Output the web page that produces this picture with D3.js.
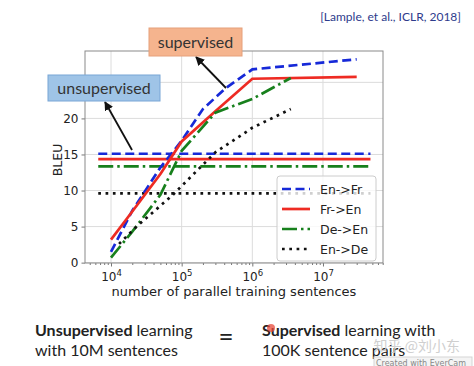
<!DOCTYPE html>
<html>
<head>
<meta charset="utf-8">
<script src="https://d3js.org/d3.v7.min.js"></script>
<style>
    body { margin: 0; background: #fff; }
    svg { display: block; background: #fff; }
    .axis text { font-family: "DejaVu Sans", sans-serif; font-size: 12px; fill: #222; }
    .axis path { display: none; }
    .axis line { stroke: #777; }
    .cal { font-family: Lato, "Open Sans", sans-serif; }
</style>
</head>
<body>
<svg width="474" height="366"></svg>
<script>
    // data
    const series = ["En->Fr", "Fr->En", "De->En", "En->De"];
    const colors = ["#1629d8", "#ee2b23", "#17801c", "#111111"];
    const dashes = ["9,4.5", null, "15,4,2.5,4", "2.7,4.6"];

    // unsupervised results (flat lines)
    const unsupBleu = [15.1, 14.35, 13.35, 9.6];
    const unsupRange = [6600, 4.7e7];

    // supervised results
    const supX = [
        [1e4, 2e4, 5e4, 1e5, 2e5, 4.2e5, 1e6, 3e7],
        [1e4, 2e4, 5e4, 1e5, 3e5, 1e6, 3e7],
        [1e4, 2e4, 5e4, 1e5, 3e5, 1e6, 3.5e6],
        [1.3e4, 2.3e4, 7.5e4, 3e5, 1e6, 3.5e6]
    ];
    const supBleu = [
        [1.5, 7.2, 13.2, 16.9, 21.3, 24.2, 26.8, 28.2],
        [3.2, 7.1, 12.3, 16.8, 21.0, 25.5, 25.75],
        [0.7, 4.3, 9.4, 15.5, 20.8, 22.7, 25.6],
        [2.6, 5.0, 9.4, 15.3, 18.7, 21.3]
    ];

    const xTicks = [1e4, 1e5, 1e6, 1e7];
    const xTickExp = ["4", "5", "6", "7"];
    const yTicks = [0, 5, 10, 15, 20, 25];

    const margin = {top: 51, right: 91, bottom: 103, left: 85};
    const width = 474 - margin.left - margin.right,
          height = 366 - margin.top - margin.bottom;

    const svg = d3.select("svg");
    const g = svg.append("g")
        .attr("transform", "translate(" + margin.left + "," + margin.top + ")");

    const x = d3.scaleLog()
        .domain([4285, 7.07e7])
        .range([0, width]);
    const y = d3.scaleLinear()
        .domain([-0.05, 29.35])
        .range([height, 0]);

    // grid
    g.append("g").selectAll("line").data(xTicks).enter().append("line")
        .attr("x1", d => x(d)).attr("x2", d => x(d))
        .attr("y1", 0).attr("y2", height)
        .attr("stroke", "#dcdcdc");
    g.append("g").selectAll("line").data(yTicks).enter().append("line")
        .attr("x1", 0).attr("x2", width)
        .attr("y1", d => y(d)).attr("y2", d => y(d))
        .attr("stroke", "#dcdcdc");

    // minor ticks
    const minor = [];
    for (let e = 3; e <= 7; e++) {
        for (let m = 2; m <= 9; m++) {
            const v = m * Math.pow(10, e);
            if (v > x.domain()[0] && v < x.domain()[1]) minor.push(v);
        }
    }
    g.append("g").attr("class", "axis")
        .attr("transform", `translate(0,${height})`)
        .call(d3.axisBottom(x).tickValues(minor).tickSize(2).tickFormat(""));

    const xAxis = g.append("g").attr("class", "axis")
        .attr("transform", `translate(0,${height})`)
        .call(d3.axisBottom(x).tickValues(xTicks).tickSize(3.5).tickPadding(4).tickFormat(""));
    xAxis.selectAll(".tick").append("text")
        .attr("y", 18)
        .attr("text-anchor", "middle")
        .attr("fill", "#222")
        .each(function(d, i) {
            const t = d3.select(this);
            t.append("tspan").text("10");
            t.append("tspan").attr("dy", -5).attr("font-size", "8.5px").text(xTickExp[i]);
        });

    // the 25 label sits under the "unsupervised" box in the original
    g.append("g").attr("class", "axis")
        .call(d3.axisLeft(y).tickValues(yTicks).tickSize(3.5).tickPadding(3)
            .tickFormat(d => d === 25 ? "" : d));

    // flat lines (unsupervised)
    series.forEach((s, i) => {
        g.append("line")
            .attr("x1", x(unsupRange[0])).attr("x2", x(unsupRange[1]))
            .attr("y1", y(unsupBleu[i])).attr("y2", y(unsupBleu[i]))
            .attr("stroke", colors[i])
            .attr("stroke-width", 2.7)
            .attr("stroke-dasharray", dashes[i]);
    });

    // supervised curves
    const line = d3.line().x(d => x(d[0])).y(d => y(d[1]));
    series.forEach((s, i) => {
        g.append("path")
            .datum(supX[i].map((v, j) => [v, supBleu[i][j]]))
            .attr("d", line)
            .attr("fill", "none")
            .attr("stroke", colors[i])
            .attr("stroke-width", 2.7)
            .attr("stroke-dasharray", dashes[i]);
    });

    // frame
    g.append("rect")
        .attr("width", width).attr("height", height)
        .attr("fill", "none").attr("stroke", "#8a8a8a");

    // legend
    const leg = g.append("g").attr("transform", "translate(192,125)");
    leg.append("rect")
        .attr("width", 99).attr("height", 85).attr("rx", 3)
        .attr("fill", "#fff").attr("fill-opacity", 0.8)
        .attr("stroke", "#cccccc");
    series.forEach((s, i) => {
        const ly = 13 + i * 20;
        leg.append("line")
            .attr("x1", 5).attr("x2", 33).attr("y1", ly).attr("y2", ly)
            .attr("stroke", colors[i]).attr("stroke-width", 2.7)
            .attr("stroke-dasharray", dashes[i]);
        leg.append("text")
            .attr("x", 43).attr("y", ly + 4.5)
            .style("font-family", "DejaVu Sans, sans-serif")
            .style("font-size", "12.5px")
            .attr("fill", "#222")
            .text(s);
    });

    // axis labels
    svg.append("text")
        .attr("x", 234).attr("y", 296)
        .attr("text-anchor", "middle")
        .style("font-family", "DejaVu Sans, sans-serif")
        .style("font-size", "13px")
        .attr("fill", "#222")
        .text("number of parallel training sentences");
    svg.append("text")
        .attr("transform", "translate(62,160) rotate(-90)")
        .attr("text-anchor", "middle")
        .style("font-family", "DejaVu Sans, sans-serif")
        .style("font-size", "12.5px")
        .attr("fill", "#222")
        .text("BLEU");

    // annotations with arrows
    svg.append("defs").append("marker")
        .attr("id", "head").attr("viewBox", "0 0 10 10")
        .attr("refX", 9).attr("refY", 5)
        .attr("markerWidth", 5).attr("markerHeight", 5)
        .attr("orient", "auto")
        .append("path").attr("d", "M0,0L10,5L0,10z").attr("fill", "#111");

    svg.append("line")
        .attr("x1", 226).attr("y1", 88).attr("x2", 196).attr("y2", 57)
        .attr("stroke", "#111").attr("stroke-width", 1.8)
        .attr("marker-end", "url(#head)");
    svg.append("line")
        .attr("x1", 132).attr("y1", 150).attr("x2", 105).attr("y2", 102)
        .attr("stroke", "#111").attr("stroke-width", 1.8)
        .attr("marker-end", "url(#head)");

    svg.append("rect")
        .attr("x", 149).attr("y", 28).attr("width", 93).attr("height", 28)
        .attr("fill", "#f5b48e").attr("stroke", "#e6a07a");
    svg.append("text").attr("class", "cal")
        .attr("x", 195.5).attr("y", 47.5).attr("text-anchor", "middle")
        .style("font-size", "16px").attr("fill", "#333")
        .text("supervised");

    svg.append("rect")
        .attr("x", 48).attr("y", 75).attr("width", 112).attr("height", 26)
        .attr("fill", "#9fc4e7").attr("stroke", "#78a6d6");
    svg.append("text").attr("class", "cal")
        .attr("x", 104).attr("y", 93.5).attr("text-anchor", "middle")
        .style("font-size", "16px").attr("fill", "#333")
        .text("unsupervised");

    // citation
    svg.append("text").attr("class", "cal")
        .attr("x", 461).attr("y", 21).attr("text-anchor", "end")
        .style("font-size", "12px").attr("fill", "#2e3b8c")
        .text("[Lample, et al., ICLR, 2018]");

    // bottom statement
    const left = svg.append("text").attr("class", "cal")
        .style("font-size", "16px").attr("fill", "#222");
    left.append("tspan").attr("x", 35).attr("y", 336)
        .attr("font-weight", "bold").text("Unsupervised");
    left.append("tspan").text(" learning");
    left.append("tspan").attr("x", 35).attr("y", 356).text("with 10M sentences");

    svg.append("text").attr("class", "cal")
        .attr("x", 226).attr("y", 346).attr("text-anchor", "middle")
        .style("font-size", "26px").attr("fill", "#222").text("=");

    const right = svg.append("text").attr("class", "cal")
        .style("font-size", "16px").attr("fill", "#222");
    right.append("tspan").attr("x", 262).attr("y", 336)
        .attr("font-weight", "bold").text("Supervised");
    right.append("tspan").text(" learning with");
    right.append("tspan").attr("x", 262).attr("y", 356).text("100K sentence pairs");

    // watermark and recorder tag
    svg.append("circle").attr("cx", 271).attr("cy", 328).attr("r", 4)
        .attr("fill", "#e84a3a").attr("fill-opacity", 0.75);
    svg.append("text")
        .attr("x", 460).attr("y", 351).attr("text-anchor", "end")
        .style("font-family", "Noto Sans CJK SC, sans-serif")
        .style("font-size", "14px").attr("fill", "#cfcfcf")
        .text("知乎 @刘小东");
    svg.append("rect")
        .attr("x", 374).attr("y", 357).attr("width", 98).attr("height", 11)
        .attr("fill", "#f4f4f4").attr("stroke", "#d5d5d5");
    svg.append("text")
        .attr("x", 421).attr("y", 365.5).attr("text-anchor", "middle")
        .style("font-family", "DejaVu Sans, sans-serif")
        .style("font-size", "8px").attr("fill", "#888")
        .text("Created with EverCam");
</script>
</body>
</html>
